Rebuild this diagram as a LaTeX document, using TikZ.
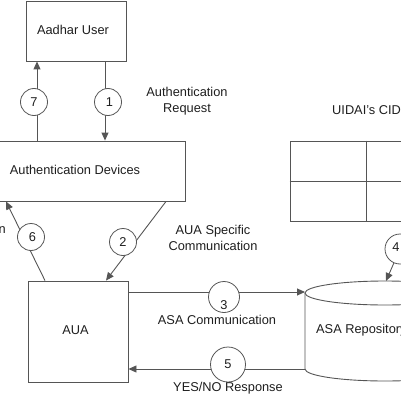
\documentclass[tikz,border=0pt]{standalone}
\usepackage{fontspec}
\setmainfont{Liberation Sans}
\usetikzlibrary{arrows.meta}
\definecolor{lncol}{HTML}{555555}
\definecolor{txcol}{HTML}{1E1E1E}
\begin{document}
\begin{tikzpicture}[x=1pt,y=1pt,
  every node/.style={font=\fontsize{12.8}{16}\selectfont, text=txcol},
  box/.style={draw=lncol, line width=0.9pt, fill=white, inner sep=0pt},
  num/.style={circle, draw=lncol, line width=0.8pt, fill=white, inner sep=0pt, minimum size=27pt},
  arr/.style={draw=lncol, line width=0.9pt, -{Triangle[length=8pt,width=7pt]}},
  plain/.style={draw=lncol, line width=0.9pt}]
\useasboundingbox (0,0) rectangle (401,-401);
\clip (0,0) rectangle (401,-401);
% boxes
\node[box, minimum width=100pt, minimum height=60pt] (user) at (76,-31) {};
\node[box, minimum width=220pt, minimum height=60pt] (auth) at (75,-171) {};
\node[box, minimum width=100pt, minimum height=101pt] (aua) at (78,-331.5) {};
\node[box, minimum width=152pt, minimum height=80pt] (cidr) at (366,-181) {};
\draw[plain] (cidr.north) -- (cidr.south);
\draw[plain] (cidr.west) -- (cidr.east);
% cylinder
\coordinate (repo3) at (305,-292);
\coordinate (repo5) at (305,-369);
\coordinate (repo4) at (386,-281);
\fill[white] (305,-293) -- (305,-369) arc[start angle=180,end angle=360,x radius=80pt,y radius=12pt] -- (465,-293) -- cycle;
\draw[plain] (305,-293) -- (305,-369) arc[start angle=180,end angle=360,x radius=80pt,y radius=12pt] -- (465,-293);
\draw[plain, fill=white] (385,-293) ellipse [x radius=80pt, y radius=12pt];
% connectors
\draw[arr] ([xshift=-38pt]auth.north) -- ([xshift=-39pt]user.south);
\draw[arr] ([xshift=29pt]user.south) -- ([xshift=30pt]auth.north);
\draw[arr] ([xshift=91pt]auth.south) -- ([xshift=28pt]aua.north);
\draw[arr] ([xshift=-33pt]aua.north) -- ([xshift=-69pt]auth.south);
\draw[arr] ([yshift=39.5pt]aua.east) -- (repo3);
\draw[arr] (repo5) -- ([yshift=-37.5pt]aua.east);
\node[num, minimum size=30pt] (c4) at (400,-249) {};
\draw[arr] (c4) -- (repo4);
% number circles
\node[num] (c7) at (34,-102) {7};
\node[num] (c1) at (108,-102) {\hspace{3pt}1};
\node[num] (c2) at (123,-242) {2};
\node[num] (c6) at (31,-237) {\hspace{3pt}6};
\node[num, minimum size=31pt] (c3) at (224,-297) {\raisebox{-12.6pt}[0pt][0pt]{3}};
\node[num, minimum size=35pt] (c5) at (228,-364.5) {5};
\node at (396,-247) {4};
% texts
\node (usert) at (73,-30) {Aadhar User};
\node (autht) at (75,-170) {Authentication Devices};
\node (auat) at (75.5,-330) {AUA};
\node (repot) [anchor=west, inner sep=0pt] at (316,-330) {ASA Repository};
\node (reqt) [align=center] at (187,-101) {Authentication\\Request};
\node (cidrt) [anchor=west, inner sep=0pt] at (332,-110) {UIDAI's CIDR};
\node (specT) [align=center] at (213,-238) {AUA Specific\\Communication};
\node (asat) at (217,-320) {ASA Communication};
\node (yest) at (228,-388) {YES/NO Response};
\node (nt) [anchor=base east, inner sep=0pt] at (6,-233) {n};
\end{tikzpicture}
\end{document}
